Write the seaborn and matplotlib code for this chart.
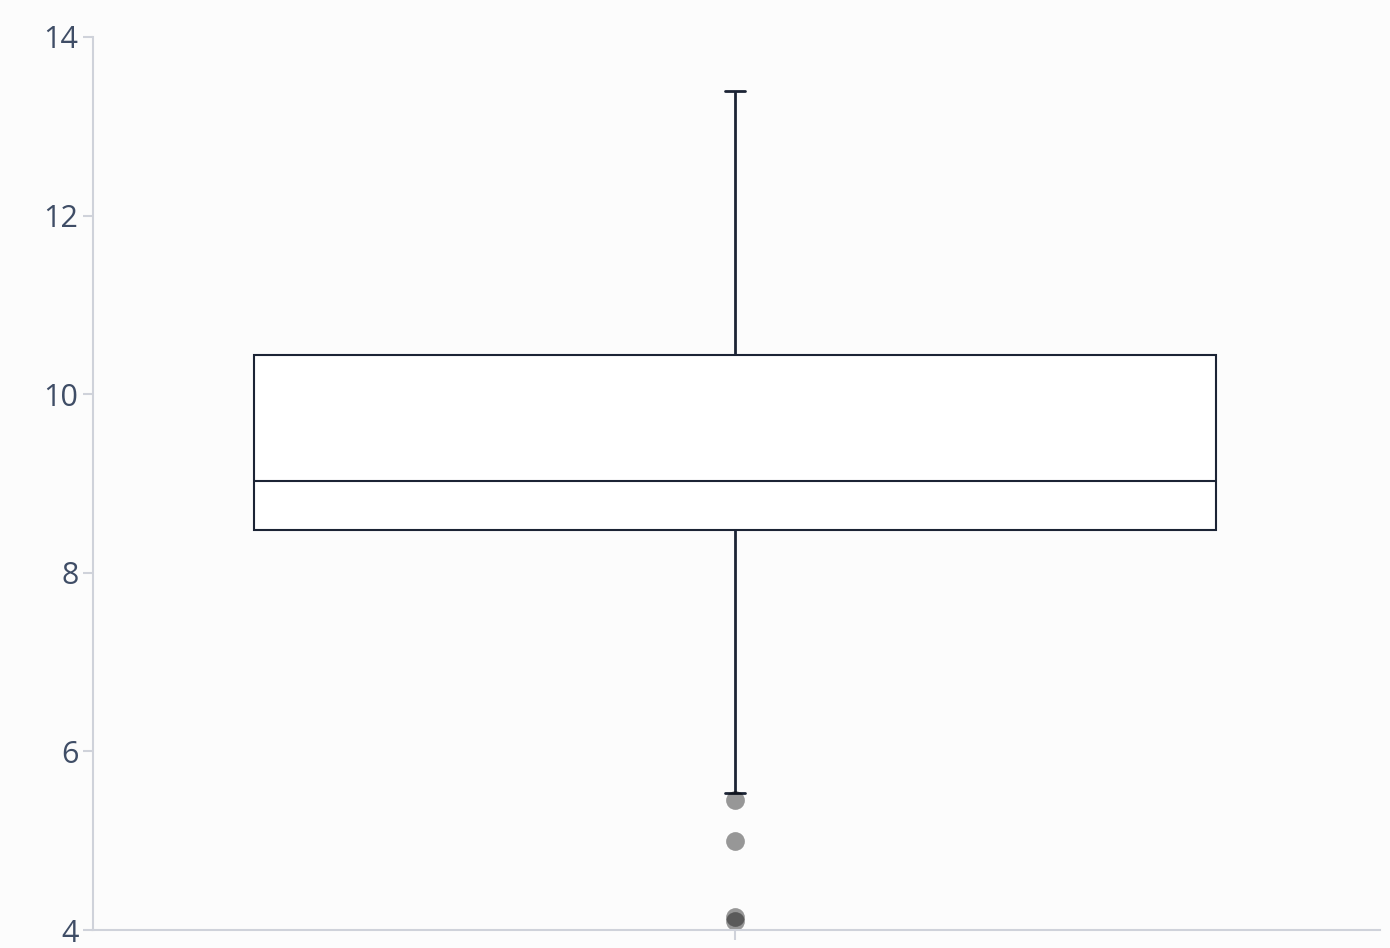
import matplotlib
matplotlib.use("Agg")
import matplotlib.pyplot as plt
import seaborn as sns
import pandas as pd

# ---------- Data ----------
values = [4.10, 4.15, 5.00, 5.46, 5.53, 8.21,
          8.48, 8.62, 8.75, 8.84, 8.91, 8.97,
          9.03, 9.21, 9.45, 9.68, 9.97, 10.21,
          10.44, 10.78, 11.12, 11.56, 12.05, 12.71, 13.39]
y_ticks = [4, 6, 8, 10, 12, 14]

df = pd.DataFrame({"group": ["a"] * len(values), "value": values})

# ---------- Theme ----------
sns.set_style("white")
plt.rcParams["font.family"] = ["Open Sans", "DejaVu Sans"]
BG = "#fcfcfc"
LINE = "#1c2435"
AXIS = "#cfd2da"
TEXT = "#3f4d66"

fig = plt.figure(figsize=(13.9, 9.48), dpi=100, facecolor=BG)
ax = fig.add_axes([93 / 1390, 18 / 948, 1287 / 1390, 893 / 948])
ax.set_facecolor(BG)

sns.boxplot(
    data=df, x="group", y="value", ax=ax,
    width=0.7475, whis=1.52,
    color="white", linecolor=LINE, linewidth=1.5,
    capwidths=0.0155,
    whiskerprops=dict(linewidth=2.0, color=LINE),
    capprops=dict(linewidth=2.0, color=LINE),
    medianprops=dict(linewidth=1.5, color=LINE),
    flierprops=dict(marker="o", markersize=13.5, markerfacecolor="black",
                    markeredgecolor="none", alpha=0.4),
)

ax.set_ylim(4, 14)
ax.set_xlim(-0.4988, 0.5012)
ax.set_yticks(y_ticks)
ax.set_yticklabels([str(t) for t in y_ticks])
ax.set_xticks([0])
ax.set_xticklabels([""])
ax.set_xlabel("")
ax.set_ylabel("")

for side in ["top", "right"]:
    ax.spines[side].set_visible(False)
for side in ["left", "bottom"]:
    ax.spines[side].set_color(AXIS)
    ax.spines[side].set_linewidth(1.5)

ax.tick_params(axis="y", left=True, direction="out", length=7, width=1.5,
               color=AXIS, labelcolor=TEXT, labelsize=22, pad=3.5)
ax.tick_params(axis="x", bottom=True, direction="out", length=7, width=1.5,
               color=AXIS)
ax.grid(False)

fig.savefig("out.png", dpi=100, facecolor=BG)
